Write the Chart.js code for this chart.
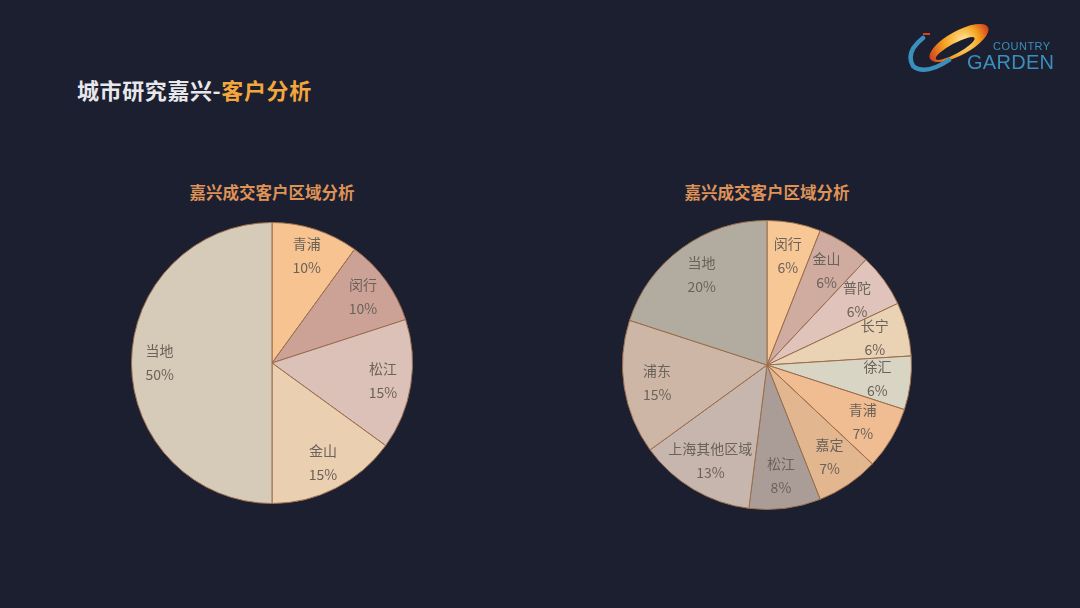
<!DOCTYPE html>
<html>
<head>
<meta charset="utf-8">
<script src="https://cdn.jsdelivr.net/npm/chart.js@4.4.1/dist/chart.umd.min.js"></script>
<style>
  html, body { margin: 0; padding: 0; }
  body {
    width: 1080px; height: 608px; overflow: hidden; position: relative;
    background: #1b1f30;
    font-family: "Noto Sans CJK SC", "Noto Sans", sans-serif;
  }
  .page-title {
    position: absolute; left: 77px; top: 73px;
    font-size: 22px; font-weight: 700; color: #e8e8ec; letter-spacing: 0.6px;
  }
  .page-title span { color: #f2a63c; }
  .chart-title {
    position: absolute; width: 300px; text-align: center;
    font-size: 16.5px; font-weight: 700; color: #de9257;
  }
  .chart-box { position: absolute; }
  .logo-text { position: absolute; color: #3b8fbd; font-family: "Liberation Sans", Arial, sans-serif; }
</style>
</head>
<body>
<div class="page-title">城市研究嘉兴-<span>客户分析</span></div>

<canvas id="logo" width="90" height="62" style="position:absolute;left:905px;top:18px"></canvas>
<div class="logo-text" style="left:993px;top:40px;font-size:11px;letter-spacing:0.5px">COUNTRY</div>
<div class="logo-text" style="left:967px;top:51px;font-size:20px;letter-spacing:0.3px">GARDEN</div>

<div class="chart-title" style="left:122px;top:180px">嘉兴成交客户区域分析</div>
<div class="chart-title" style="left:617px;top:180px">嘉兴成交客户区域分析</div>

<div class="chart-box" style="left:130px;top:221px;width:284px;height:284px"><canvas id="pieLeft"></canvas></div>
<div class="chart-box" style="left:621px;top:219px;width:292px;height:292px"><canvas id="pieRight"></canvas></div>

<script>
// left pie: 嘉兴成交客户区域分析 (嘉兴口径)
const leftLabels = ['青浦', '闵行', '松江', '金山', '当地'];
const leftValues = [10, 10, 15, 15, 50];
const leftColors = ['#f6c391', '#cca296', '#dcc1b8', '#ebcfb1', '#d6cbb8'];

// right pie: 上海各区拆分
const rightLabels = ['闵行', '金山', '普陀', '长宁', '徐汇', '青浦', '嘉定', '松江', '上海其他区域', '浦东', '当地'];
const rightValues = [6, 6, 6, 6, 6, 7, 7, 8, 13, 15, 20];
const rightColors = ['#f7c896', '#cfaba0', '#e0c4bb', '#ead2b4', '#d9d5c5', '#f0bd92',
                     '#e2b68e', '#aa9d98', '#c7b6ad', '#cdb6a5', '#b2aba0'];

// draws "name / pct%" inside each slice
const sliceLabels = {
    id: 'sliceLabels',
    afterDatasetsDraw(chart, args, opts) {
        const ctx = chart.ctx;
        const meta = chart.getDatasetMeta(0);
        const data = chart.data.datasets[0].data;
        ctx.save();
        ctx.fillStyle = opts.color || '#6e645c';
        ctx.font = '14px "Noto Sans CJK SC", sans-serif';
        ctx.textAlign = 'center';
        ctx.textBaseline = 'middle';
        meta.data.forEach((arc, i) => {
            const a = (arc.startAngle + arc.endAngle) / 2;
            const r = arc.outerRadius * (opts.ratio || 0.78);
            const x = arc.x + Math.cos(a) * r;
            const y = arc.y + Math.sin(a) * r;
            ctx.fillText(chart.data.labels[i], x, y - 12);
            ctx.fillText(data[i] + '%', x, y + 12);
        });
        ctx.restore();
    }
};

function makePie(id, labels, values, colors, ratio) {
    return new Chart(document.getElementById(id), {
        type: 'pie',
        data: {
            labels: labels,
            datasets: [{
                data: values,
                backgroundColor: colors,
                borderColor: '#9c6e4c',
                borderWidth: 1
            }]
        },
        options: {
            responsive: true,
            maintainAspectRatio: false,
            animation: false,
            layout: { padding: 1 },
            plugins: {
                legend: { display: false },
                tooltip: { enabled: false },
                sliceLabels: { ratio: ratio, color: '#6b625a' }
            }
        },
        plugins: [sliceLabels]
    });
}

makePie('pieLeft', leftLabels, leftValues, leftColors, 0.8);
makePie('pieRight', rightLabels, rightValues, rightColors, 0.77);

// logo swoosh
(function () {
    const c = document.getElementById('logo').getContext('2d');
    c.save();
    c.translate(54, 25);
    c.rotate(-0.5);
    const g = c.createRadialGradient(6, 0, 2, 0, 0, 32);
    g.addColorStop(0, '#ffe08a');
    g.addColorStop(0.5, '#f5a623');
    g.addColorStop(1, '#d4431c');
    c.fillStyle = g;
    c.beginPath();
    c.ellipse(0, 0, 33, 12, 0, 0, Math.PI * 2);
    c.fill();
    c.fillStyle = '#1b1f30';
    c.beginPath();
    c.ellipse(-6, 3, 22, 5, 0, 0, Math.PI * 2);
    c.fill();
    c.restore();
    c.strokeStyle = '#3b8fbd';
    c.lineWidth = 4.5;
    c.lineCap = 'round';
    c.beginPath();
    c.moveTo(18, 20);
    c.quadraticCurveTo(0, 34, 8, 48);
    c.quadraticCurveTo(20, 58, 44, 42);
    c.stroke();
    c.fillStyle = '#d4431c';
    c.fillRect(18, 15, 7, 2);
})();
</script>
</body>
</html>
